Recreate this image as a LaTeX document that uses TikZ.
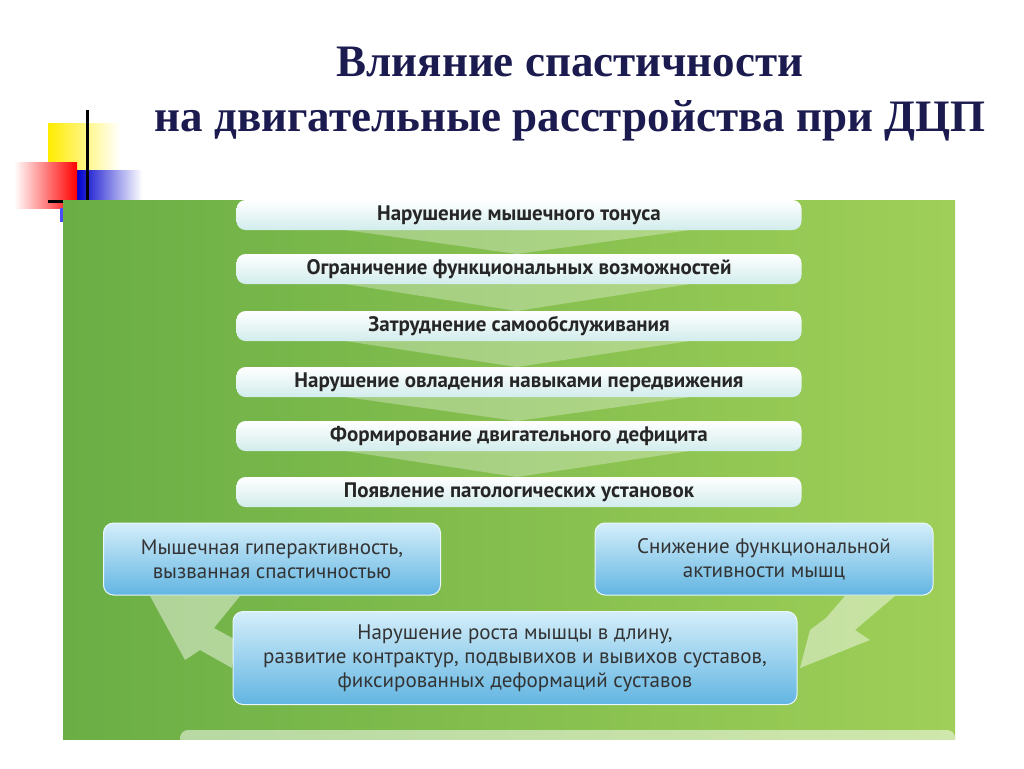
\documentclass[tikz,border=0pt]{standalone}
\usepackage{fontspec}
\setmainfont{Liberation Serif}
\newfontfamily\boxfont{PT Sans}
\definecolor{navy}{HTML}{1B1B50}
\definecolor{gL}{HTML}{6AAE45}
\definecolor{gR}{HTML}{9FCF58}
\definecolor{paleb}{HTML}{D2ECEC}
\definecolor{bTop}{HTML}{D4EEFA}
\definecolor{bBot}{HTML}{62B5E2}
\tikzset{
 pale/.style={rounded corners=9pt, top color=white, bottom color=paleb, draw=none, minimum width=565pt, minimum height=30pt, font=\boxfont\bfseries\fontsize{21}{24}\selectfont, text=black!85},
 bluebox/.style={rounded corners=10pt, top color=bTop, bottom color=bBot, draw=white!50!bTop, line width=1pt, align=center, font=\boxfont\fontsize{21}{24}\selectfont, text=black!80},
 chev/.style={fill=white, fill opacity=0.3, draw=none},
 bigarrow/.style={fill=white, fill opacity=0.45, draw=none}
}
\begin{document}
\begin{tikzpicture}[x=1pt,y=-1pt]
\useasboundingbox (0,0) rectangle (1024,768);
% decoration
\fill[left color=yellow!85!orange, right color=white] (48,123) rectangle (120,190);
\fill[left color=blue!80!black, right color=white] (77,170) rectangle (142,200);
\fill[left color=white, right color=red] (14,162) rectangle (77,208);
\draw[line width=3pt] (87,110) -- (87,200);
\draw[line width=3pt] (48,201) -- (64,201);
\fill[blue!70] (60,208) rectangle (64,222);
% title
\node[font=\bfseries\fontsize{45}{55}\selectfont, text=navy, align=center] (title) at (570,94) {Влияние спастичности\\на двигательные расстройства при ДЦП};
% panel
\fill[left color=gL, right color=gR] (63,200) rectangle (955,740);
\fill[white, opacity=0.5, rounded corners=8pt] (180,730) rectangle (955,760);
\fill[white] (0,740) rectangle (1024,768);
% chevrons
\foreach \y/\t in {230/254,284/311,341/367,397/421,451/477}
  \fill[chev] (345,\y) -- (690,\y) -- (517,\t) -- cycle;
% pale boxes
\node[pale] (b1) at (519,215) {Нарушение мышечного тонуса};
\node[pale] (b2) at (519,269) {Ограничение функциональных возможностей};
\node[pale] (b3) at (519,326) {Затруднение самообслуживания};
\node[pale] (b4) at (519,382) {Нарушение овладения навыками передвижения};
\node[pale] (b5) at (519,436) {Формирование двигательного дефицита};
\node[pale] (b6) at (519,492) {Появление патологических установок};
% big arrows
\fill[bigarrow] (150,596) -- (240,596) -- (214,628) -- (236,640) -- (232,668) -- (200,650) -- (185,660) -- cycle;
\fill[bigarrow] (845,596) -- (895,596) -- (855,630) -- (870,640) -- (800,668) -- (810,630) -- (826,618) -- cycle;
% blue boxes
\node[bluebox, minimum width=337pt, minimum height=72pt] (l) at (272,559) {Мышечная гиперактивность,\\вызванная спастичностью};
\node[bluebox, minimum width=338pt, minimum height=72pt] (r) at (764,559) {Снижение функциональной\\активности мышц};
\node[bluebox, minimum width=564pt, minimum height=93pt] (m) at (515,658) {Нарушение роста мышцы в длину,\\развитие контрактур, подвывихов и вывихов суставов,\\фиксированных деформаций суставов};
\end{tikzpicture}
\end{document}
